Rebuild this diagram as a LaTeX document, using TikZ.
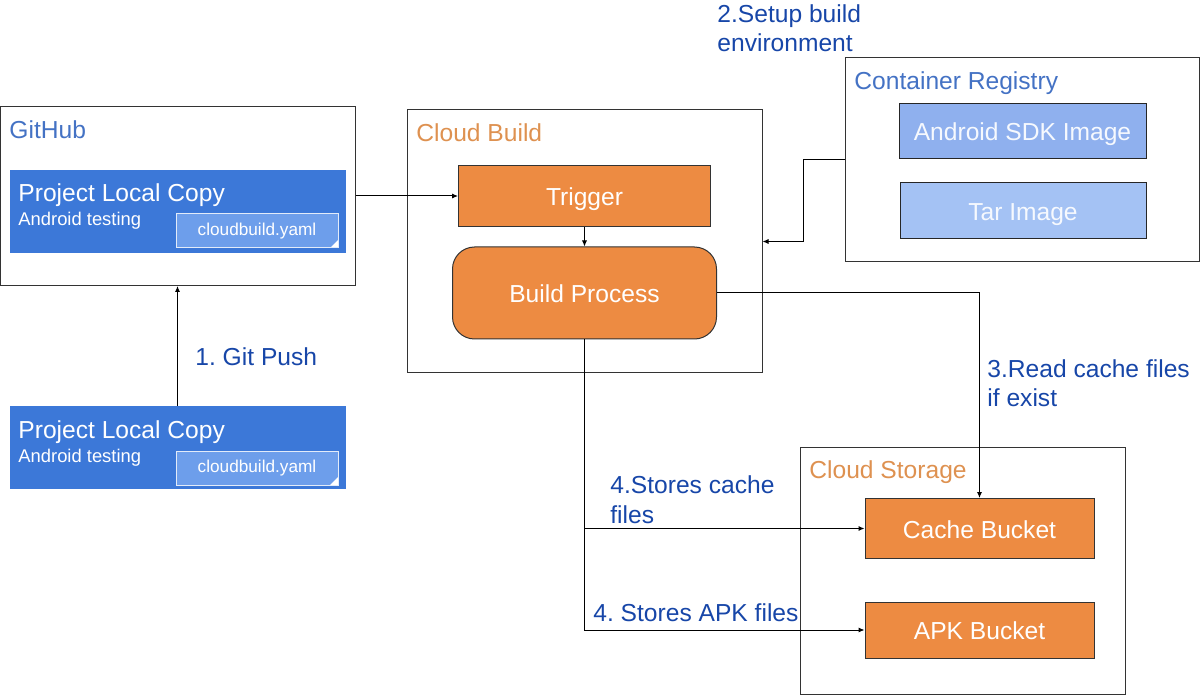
\documentclass[tikz,border=0pt]{standalone}
\usepackage{fontspec}
\setmainfont{Liberation Sans}
\usepackage{tikz}
\usetikzlibrary{arrows.meta}

\definecolor{titleblue}{HTML}{4472C4}
\definecolor{titleorange}{HTML}{DE9150}
\definecolor{labelblue}{HTML}{1746A8}
\definecolor{copyblue}{HTML}{3C78D8}
\definecolor{noteblue}{HTML}{6D9EEB}
\definecolor{sdkblue}{HTML}{8FB0EE}
\definecolor{tarblue}{HTML}{A4C2F4}
\definecolor{bucketorange}{HTML}{ED8B42}
\definecolor{edgegrey}{HTML}{333333}

\newcommand{\mainsize}{\frenchspacing\fontsize{12.3}{14.75}\selectfont}
\newcommand{\subsize}{\fontsize{9.2}{11}\selectfont}
\newcommand{\notesize}{\fontsize{8.6}{10}\selectfont}

\tikzset{
	panel/.style={draw=edgegrey, line width=0.5pt},
	copybox/.style={fill=copyblue, minimum width=168pt, minimum height=41.5pt},
	filebox/.style={draw=white!85!copyblue, line width=0.5pt, fill=noteblue, text=white,
		font=\notesize, minimum width=81pt, minimum height=17pt,
		path picture={
			\fill[white] (path picture bounding box.south east) -- ++(-4pt,0) -- ++(4pt,4pt) -- cycle;
		}},
	orangebox/.style={draw=black!80, line width=0.5pt, fill=bucketorange, text=white, font=\mainsize,
		text height=9.5pt, text depth=0pt},
	imagebox/.style={draw=black!85, line width=0.5pt, text=white!92!sdkblue, font=\mainsize,
		text height=9.5pt, text depth=0pt},
	title/.style={anchor=base west, inner sep=0pt, font=\mainsize},
	step label/.style={anchor=base west, inner sep=0pt, align=left, font=\mainsize, text=labelblue},
	link/.style={line width=0.5pt, -{Latex[length=3pt,width=2.6pt]}},
}

\begin{document}
\begin{tikzpicture}[x=0.5pt, y=-0.5pt]

\useasboundingbox (0,0) rectangle (1200,695);

% GitHub
\node [panel,
	minimum width=177.5pt,
	minimum height=89.5pt
] (github) at (177.5, 196) {};
\node [title, text=titleblue] (github_title) at (9, 139) {GitHub};

% Project copy in GitHub
\node [copybox] (github_copy) at (177.5, 211.5) {};
\node [title, text=white] (github_copy_title) at (18, 202) {Project Local Copy};
\node [title, text=white, font=\subsize] (github_copy_sub) at (18, 226) {Android testing};
\node [filebox] (github_file) at (257, 231) {cloudbuild.yaml};

% Project copy on the developer side
\node [copybox] (local_copy) at (177.5, 447.5) {};
\node [title, text=white] (local_copy_title) at (18, 438) {Project Local Copy};
\node [title, text=white, font=\subsize] (local_copy_sub) at (18, 462) {Android testing};
\node [filebox] (local_file) at (257, 468) {cloudbuild.yaml};

% Cloud Build
\node [panel,
	minimum width=177.5pt,
	minimum height=131.5pt
] (cloud_build) at (584.5, 241.5) {};
\node [title, text=titleorange] (cloud_build_title) at (416, 142) {Cloud Build};

% Trigger
\node [orangebox,
	minimum width=126pt,
	minimum height=30.5pt
] (trigger) at (584.5, 196) {Trigger};

% Build process
\node [orangebox,
	rounded corners=11pt,
	minimum width=132pt,
	minimum height=46pt
] (build_process) at (584.5, 293) {Build Process};

% Container Registry
\node [panel,
	minimum width=177pt,
	minimum height=102pt
] (registry) at (1022, 160) {};
\node [title, text=titleblue] (registry_title) at (854, 90) {Container Registry};

% Android SDK image
\node [imagebox,
	fill=sdkblue,
	minimum width=123.5pt,
	minimum height=27.5pt
] (android_sdk) at (1022.5, 131.5) {Android SDK Image};

% Tar image
\node [imagebox,
	fill=tarblue,
	minimum width=123pt,
	minimum height=28pt
] (tar_image) at (1023, 211) {Tar Image};

% Cloud Storage
\node [panel,
	minimum width=162.5pt,
	minimum height=123.5pt
] (cloud_storage) at (962.5, 570.5) {};
\node [title, text=titleorange] (cloud_storage_title) at (809, 478) {Cloud Storage};

% Cache bucket
\node [orangebox,
	minimum width=114.5pt,
	minimum height=30pt
] (cache_bucket) at (979.5, 528.5) {Cache Bucket};

% APK bucket
\node [orangebox,
	minimum width=114.5pt,
	minimum height=28pt
] (apk_bucket) at (979.5, 630) {APK Bucket};

% Step labels
\node [step label] (step_push) at (195, 365) {1. Git Push};
\node [step label] (step_setup) at (717, 52) {2.Setup build\\environment};
\node [step label] (step_read) at (987, 407) {3.Read cache files\\if exist};
\node [step label] (step_cache) at (610, 523) {4.Stores cache\\files};
\node [step label] (step_apk) at (593, 621) {4. Stores APK files};

% Bend of the registry arrow
\coordinate (registry_bend) at (803, 160);

% Arrows
\draw[link] (local_copy) -- (github);
\draw[link] (github) -- (trigger);
\draw[link] (trigger) -- (build_process);
\draw[link] (registry) -- (registry_bend) |- (cloud_build.east);
\draw[link] (build_process) -| (cache_bucket);
\draw[link] (build_process) |- (cache_bucket);
\draw[link] (build_process) |- (apk_bucket);

\end{tikzpicture}
\end{document}
